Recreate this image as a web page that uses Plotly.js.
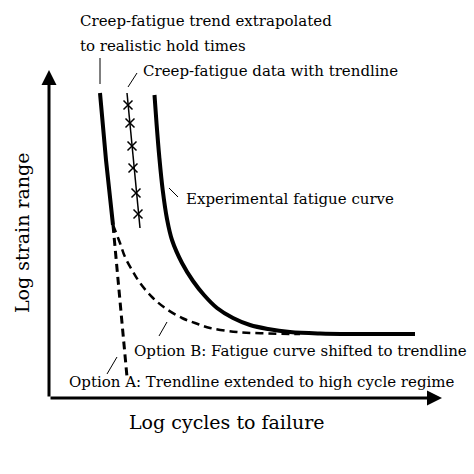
<!DOCTYPE html>
<html><head><meta charset="utf-8">
<script src="https://cdn.plot.ly/plotly-3.0.1.min.js"></script>
<style>html,body{margin:0;padding:0;background:#fff}#c{width:474px;height:474px}</style>
</head><body><div id="c"></div>
<script>
// Schematic coordinates
const expX = [154.5,156.5,159.3,162.7,167,172,182,193,204,217,233,250,268,290,320,350,415];
const expY = [95,123,157,190,219,240,263,281,295,308,318,325,329,332,333.5,334,334];
const trendX = [100,106,113];
const trendY = [93,160,225];
const optAX = [113,127];
const optAY = [225,377];
const optBX = [113,115,120,125,132,140,152,165,182,195,210,237,268,300];
const optBY = [225,230,243,257,270,283,297,308,318,323,328,332,333.5,334];
const dataLineX = [127,140];
const dataLineY = [93,228];
const markX = [128,130,132,133,136,138];
const markY = [105,123,146,168,193,214];
const axisOrigin = [49,398];
const axisXEnd = 442;
const axisYEnd = 70;

const font = {family:'DejaVu Serif', size:15, color:'#000'};
const traces = [
 {x:expX,y:expY,mode:'lines',line:{color:'#000',width:4,shape:'spline',smoothing:1}},
 {x:trendX,y:trendY,mode:'lines',line:{color:'#000',width:4}},
 {x:optAX,y:optAY,mode:'lines',line:{color:'#000',width:3,dash:'8px,5px'}},
 {x:optBX,y:optBY,mode:'lines',line:{color:'#000',width:2.5,dash:'8px,5px',shape:'spline',smoothing:1}},
 {x:dataLineX,y:dataLineY,mode:'lines',line:{color:'#000',width:1.5}},
 {x:markX,y:markY,mode:'markers',marker:{symbol:'x-thin-open',size:9,color:'#000',line:{color:'#000',width:1.5}}}
];
const texts = [
 {t:'Creep-fatigue trend extrapolated',x:78,y:21},
 {t:'to realistic hold times',x:78,y:46},
 {t:'Creep-fatigue data with trendline',x:141,y:71},
 {t:'Experimental fatigue curve',x:184,y:199},
 {t:'Option B: Fatigue curve shifted to trendline',x:132,y:351},
 {t:'Option A: Trendline extended to high cycle regime',x:67,y:382}
];
const leaders = [[100,58,100,84],[137,73,128,87],[169,188,178,197],[167,322,159,336],[117,357,107,374]];
const ann = texts.map(o=>({x:o.x,y:o.y,xref:'x',yref:'y',text:o.t,showarrow:false,xanchor:'left',yanchor:'middle',font:font}));
ann.push({x:axisXEnd,y:axisOrigin[1],ax:axisOrigin[0],ay:axisOrigin[1],xref:'x',yref:'y',axref:'x',ayref:'y',text:'',showarrow:true,arrowhead:2,arrowsize:1,arrowwidth:3,arrowcolor:'#000'});
ann.push({x:axisOrigin[0],y:axisYEnd,ax:axisOrigin[0],ay:axisOrigin[1],xref:'x',yref:'y',axref:'x',ayref:'y',text:'',showarrow:true,arrowhead:2,arrowsize:1,arrowwidth:3,arrowcolor:'#000'});
ann.push({x:227,y:422,xref:'x',yref:'y',text:'Log cycles to failure',showarrow:false,font:{family:'DejaVu Serif',size:19,color:'#000'}});
ann.push({x:22,y:233,xref:'x',yref:'y',text:'Log strain range',textangle:-90,showarrow:false,font:{family:'DejaVu Serif',size:19,color:'#000'}});
const shapes = leaders.map(l=>({type:'line',xref:'x',yref:'y',x0:l[0],y0:l[1],x1:l[2],y1:l[3],line:{color:'#000',width:1}}));
const layout = {width:474,height:474,margin:{l:0,r:0,t:0,b:0},showlegend:false,
 paper_bgcolor:'#fff',plot_bgcolor:'#fff',
 xaxis:{range:[0,474],visible:false,fixedrange:true},
 yaxis:{range:[474,0],visible:false,fixedrange:true},
 annotations:ann,shapes:shapes};
Plotly.newPlot('c',traces,layout,{staticPlot:true});
</script></body></html>
